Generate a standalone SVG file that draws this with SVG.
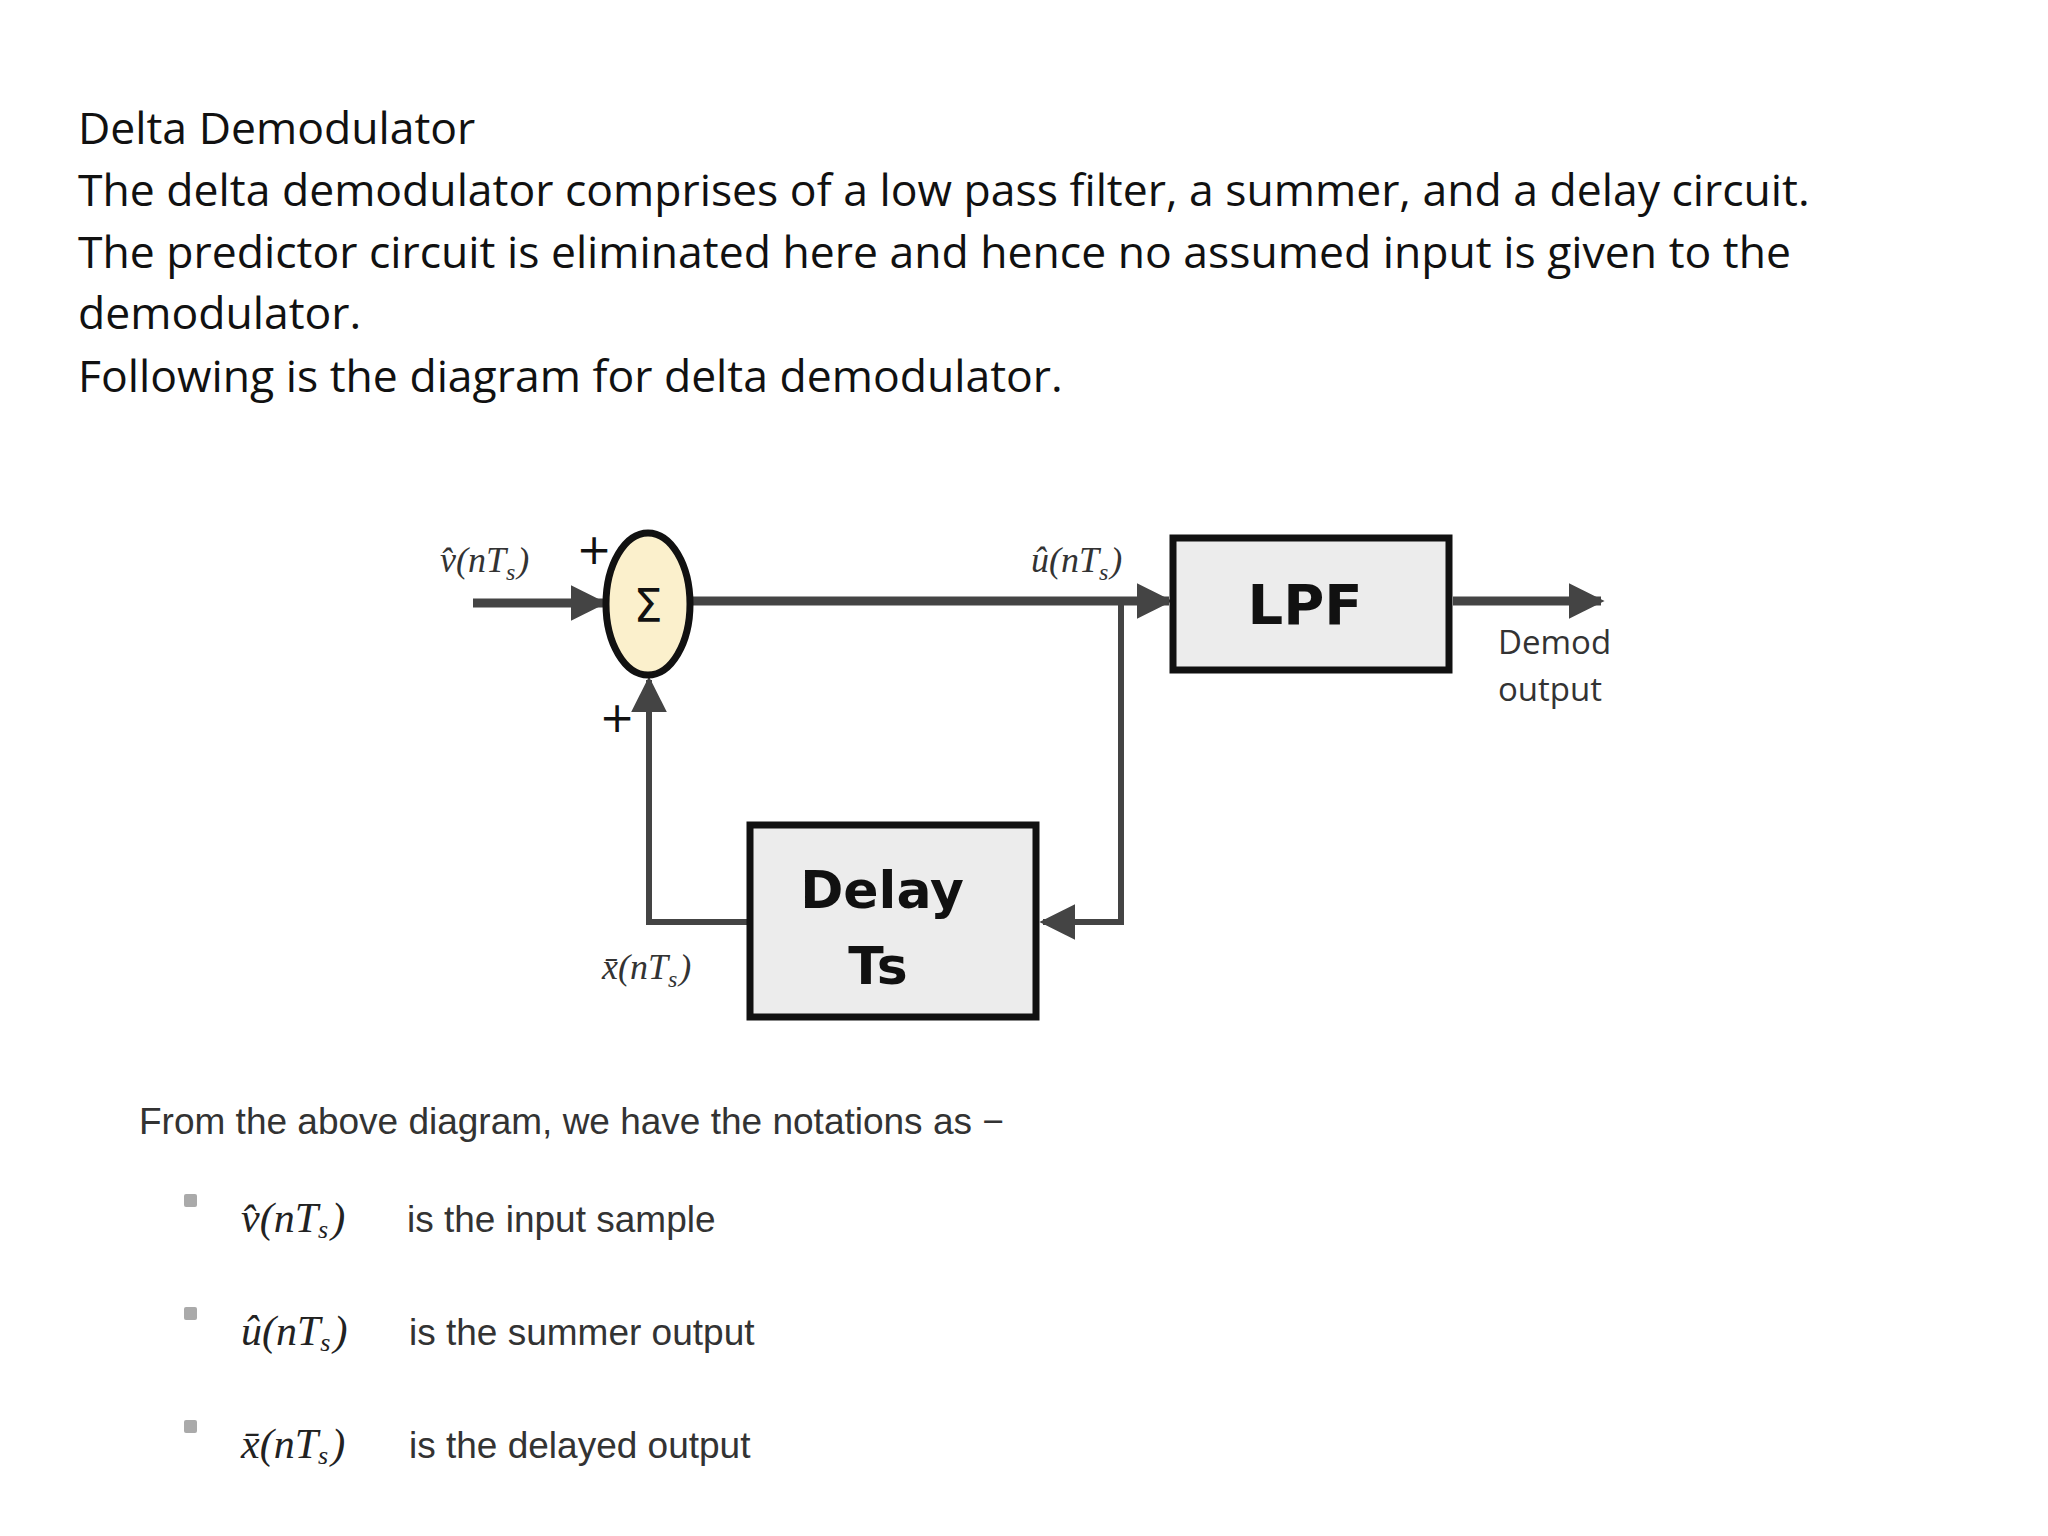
<svg xmlns="http://www.w3.org/2000/svg" width="2048" height="1536" viewBox="0 0 2048 1536">
<defs>
<style>
.body{font-family:"Open Sans","Noto Sans",sans-serif;font-size:44.5px;fill:#111}
.math{font-family:"Liberation Serif",serif;font-style:italic;font-size:36px;fill:#333}
.box{fill:#ececec;stroke:#111;stroke-width:7}
.lbl{font-family:"DejaVu Sans",sans-serif;font-weight:bold;fill:#111;text-anchor:middle}
.wire{stroke:#444;fill:none}
.note{font-family:"Liberation Sans",Arial,sans-serif;font-size:37px;fill:#333}
.m2{font-family:"Liberation Serif",serif;font-style:italic;font-size:42px;fill:#222}
</style>
<marker id="ah" viewBox="0 0 10 10" refX="9" refY="5" markerWidth="4" markerHeight="4" markerUnits="strokeWidth" orient="auto"><path d="M0,0L10,5L0,10z" fill="#444"/></marker>
<marker id="ah2" viewBox="0 0 10 10" refX="9" refY="5" markerWidth="6" markerHeight="6" markerUnits="strokeWidth" orient="auto"><path d="M0,0L10,5L0,10z" fill="#444"/></marker>
</defs>
<rect width="2048" height="1536" fill="#fff"/>
<g id="intro">
<text class="body" x="78" y="144">Delta Demodulator</text>
<text class="body" x="78" y="206">The delta demodulator comprises of a low pass filter, a summer, and a delay circuit.</text>
<text class="body" x="78" y="268">The predictor circuit is eliminated here and hence no assumed input is given to the</text>
<text class="body" x="78" y="329">demodulator.</text>
<text class="body" x="78" y="392">Following is the diagram for delta demodulator.</text>
</g>
<g transform="translate(-9,-6)">
<g id="connectors">
<line class="wire" x1="482" y1="609" x2="612" y2="609" stroke-width="9" marker-end="url(#ah)"/>
<line class="wire" x1="700" y1="607" x2="1178" y2="607" stroke-width="9" marker-end="url(#ah)"/>
<line class="wire" x1="1462" y1="607" x2="1610" y2="607" stroke-width="9" marker-end="url(#ah)"/>
<polyline class="wire" points="1130,607 1130,928 1052,928" stroke-width="6" marker-end="url(#ah2)"/>
<polyline class="wire" points="759,928 658,928 658,686" stroke-width="6" marker-end="url(#ah2)"/>
</g>
<g id="summer">
<ellipse cx="657" cy="610" rx="42" ry="71" fill="#fbf0cc" stroke="#111" stroke-width="7"/>
<text x="657" y="628" font-family="DejaVu Sans,sans-serif" font-size="46" text-anchor="middle" fill="#111">Σ</text>
</g>
<g id="lpf">
<rect class="box" x="1182" y="544" width="276" height="132"/>
<text class="lbl" x="1314" y="630" font-size="56">LPF</text>
</g>
<g id="delay">
<rect class="box" x="759" y="831" width="286" height="192"/>
<text class="lbl" x="891" y="914" font-size="52">Delay</text>
<text class="lbl" x="887" y="990" font-size="52">Ts</text>
</g>
<g id="labels">
<text class="math" x="449" y="578">v̂(nT<tspan font-size="24" dy="8">s</tspan><tspan dx="2" dy="-8">)</tspan></text>
<text class="math" x="1040" y="578">û(nT<tspan font-size="24" dy="8">s</tspan><tspan dx="2" dy="-8">)</tspan></text>
<text class="math" x="611" y="985">x̄(nT<tspan font-size="24" dy="8">s</tspan><tspan dx="2" dy="-8">)</tspan></text>
<text x="603" y="570" font-family="DejaVu Sans,sans-serif" font-size="42" fill="#111" text-anchor="middle">+</text>
<text x="626" y="738" font-family="DejaVu Sans,sans-serif" font-size="42" fill="#111" text-anchor="middle">+</text>
<text x="1507" y="660" font-family="Open Sans,sans-serif" font-size="33" fill="#333">Demod</text>
<text x="1507" y="707" font-family="Open Sans,sans-serif" font-size="33" fill="#333">output</text>
</g>
</g>
<g id="notes">
<text class="note" x="139" y="1134">From the above diagram, we have the notations as −</text>
<rect x="184" y="1194" width="13" height="13" rx="2" fill="#aaa"/>
<rect x="184" y="1307" width="13" height="13" rx="2" fill="#aaa"/>
<rect x="184" y="1420" width="13" height="13" rx="2" fill="#aaa"/>
<text class="m2" x="241" y="1232">v̂(nT<tspan font-size="26" dy="6">s</tspan><tspan dx="3" dy="-6">)</tspan></text>
<text class="note" x="407" y="1232">is the input sample</text>
<text class="m2" x="241" y="1345">û(nT<tspan font-size="26" dy="6">s</tspan><tspan dx="3" dy="-6">)</tspan></text>
<text class="note" x="409" y="1345">is the summer output</text>
<text class="m2" x="241" y="1458">x̄(nT<tspan font-size="26" dy="6">s</tspan><tspan dx="3" dy="-6">)</tspan></text>
<text class="note" x="409" y="1458">is the delayed output</text>
</g>
</svg>
